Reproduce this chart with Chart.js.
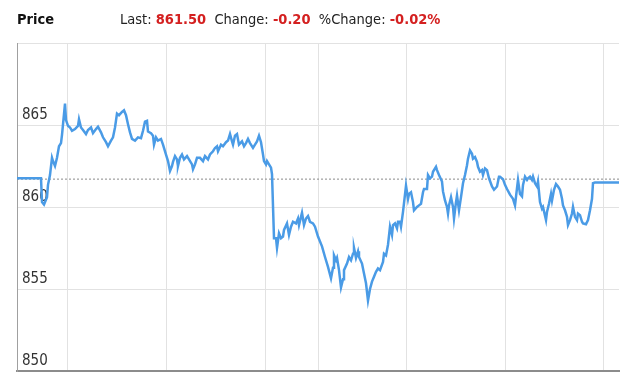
<!DOCTYPE html>
<html>
<head>
<meta charset="utf-8">
<script src="https://cdn.jsdelivr.net/npm/chart.js@4"></script>
<style>
  html, body { margin: 0; padding: 0; background: #fff; }
  #wrap { position: relative; width: 640px; height: 390px; }
  #head {
    position: absolute; left: 17px; top: 11px;
    font-family: "DejaVu Sans Condensed", "Liberation Sans Narrow", sans-serif;
    font-size: 14.5px; color: #222; white-space: pre;
  }
  #head b.title { font-weight: bold; color: #111; margin-right: 66px; }
  #head .val { color: #d42020; font-weight: bold; }
</style>
</head>
<body>
<div id="wrap">
  <canvas id="priceChart" width="640" height="390"></canvas>
  <div id="head"><b class="title">Price</b>Last: <span class="val">861.50</span>  Change: <span class="val">-0.20</span>  %Change: <span class="val">-0.02%</span></div>
</div>
<script>
// intraday price trace (time in chart units, price)
const times = [
  0, 24, 25, 27, 30, 31, 33, 35, 36, 38, 40, 42, 44, 45, 48, 49, 51, 53, 55, 58,
  61, 62, 64, 66, 69, 71, 74, 76, 79, 81, 84, 86, 89, 91, 94, 96, 98, 100, 102, 105,
  107, 109, 111, 113, 115, 118, 121, 124, 126, 128, 130, 131, 134, 136, 137, 139, 141, 144, 146, 149,
  151, 153, 155, 156, 158, 160, 161, 163, 165, 167, 170, 172, 175, 176, 178, 180, 183, 186, 188, 191,
  193, 196, 198, 200, 201, 204, 206, 209, 211, 213, 215, 216, 218, 220, 222, 225, 227, 229, 231, 233,
  236, 238, 240, 242, 244, 246, 247, 249, 250, 252, 254, 255, 257, 259, 260, 262, 264, 266, 267, 270,
  272, 274, 276, 279, 281, 282, 284, 285, 287, 289, 291, 293, 296, 298, 301, 305, 308, 311, 314, 316,
  317, 319, 320, 322, 324, 326, 327, 330, 332, 334, 336, 337, 339, 341, 342, 345, 347, 349, 351, 353,
  355, 357, 359, 361, 363, 366, 367, 369, 371, 373, 375, 376, 378, 380, 381, 383, 384, 386, 389, 391,
  392, 394, 396, 397, 400, 402, 404, 406, 407, 410, 411, 413, 415, 416, 419, 420, 422, 425, 426, 428,
  430, 431, 432, 434, 436, 437, 439, 440, 442, 444, 446, 448, 450, 451, 453, 455, 456, 458, 460, 461,
  463, 465, 466, 468, 470, 472, 475, 477, 480, 482, 483, 486, 488, 490, 493, 496, 498, 500, 501, 503,
  505, 506, 508, 510, 511, 513, 515, 516, 518, 520, 521, 523, 525, 526, 529, 530, 532, 534, 535, 537,
  539, 541, 543, 545, 546, 548, 550, 551, 553, 555, 556, 558, 560, 561, 563, 565, 566, 569, 571, 573,
  575, 576, 578, 602
];
const prices = [
  861.75, 861.75, 860.3, 860.15, 860.6, 861.35, 861.95, 863.0, 862.8, 862.5, 863.0, 863.7, 863.9, 864.4, 866.3, 865.3, 864.95, 864.85, 864.65, 864.75,
  864.95, 865.35, 864.85, 864.7, 864.45, 864.7, 864.85, 864.5, 864.75, 864.9, 864.55, 864.25, 863.95, 863.7, 864.05, 864.25, 864.85, 865.7, 865.6, 865.8,
  865.9, 865.6, 865.05, 864.55, 864.15, 864.05, 864.25, 864.2, 864.65, 865.2, 865.25, 864.6, 864.5, 864.35, 863.8, 864.25, 864.05, 864.15, 863.8, 863.2,
  862.8, 862.2, 862.5, 862.75, 863.1, 862.9, 862.5, 863.0, 863.2, 862.9, 863.1, 862.9, 862.6, 862.3, 862.6, 863.0, 863.0, 862.8, 863.1, 862.9,
  863.2, 863.4, 863.6, 863.7, 863.4, 863.8, 863.7, 863.95, 864.05, 864.45, 864.0, 863.8, 864.35, 864.45, 863.8, 864.0, 863.7, 863.9, 864.15, 863.9,
  863.6, 863.8, 864.0, 864.35, 863.95, 863.2, 862.8, 862.6, 862.8, 862.6, 862.4, 862.0, 858.1, 858.1, 857.5, 858.4, 858.1, 858.2, 858.6, 859.0,
  858.3, 858.8, 859.1, 859.0, 859.3, 858.9, 859.4, 859.65, 858.9, 859.3, 859.45, 859.1, 859.0, 858.8, 858.2, 857.6, 856.95, 856.35, 855.65, 856.3,
  857.05, 856.75, 856.9, 856.15, 855.1, 855.6, 856.15, 856.55, 856.95, 856.75, 857.15, 857.5, 856.9, 857.3, 856.95, 856.55, 855.95, 855.35, 854.3, 855.0,
  855.45, 855.75, 856.05, 856.25, 856.15, 856.65, 857.15, 857.05, 857.7, 858.8, 858.3, 858.9, 859.0, 858.7, 859.1, 859.1, 858.8, 859.7, 861.3, 860.5,
  860.8, 860.9, 860.3, 859.8, 860.0, 860.1, 860.2, 860.9, 861.1, 861.1, 861.95, 861.75, 861.85, 862.15, 862.45, 862.25, 861.95, 861.55, 860.95, 860.4,
  860.0, 859.6, 860.1, 860.6, 860.0, 859.3, 860.3, 860.7, 859.8, 860.6, 861.45, 861.95, 862.55, 862.95, 863.45, 863.25, 862.95, 863.05, 862.75, 862.45,
  862.15, 862.25, 861.95, 862.35, 862.25, 861.75, 861.25, 861.05, 861.25, 861.85, 861.85, 861.7, 861.35, 861.1, 860.75, 860.5, 860.1, 861.15, 861.65, 860.8,
  860.65, 861.35, 861.85, 861.65, 861.75, 861.85, 861.65, 861.85, 861.45, 861.25, 861.55, 860.3, 859.9, 860.0, 859.2, 859.7, 860.2, 860.8, 860.4, 861.05,
  861.4, 861.25, 861.05, 860.5, 860.1, 859.8, 859.4, 858.9, 859.2, 859.6, 860.0, 859.4, 859.2, 859.6, 859.5, 859.1, 859.0, 858.95, 859.2, 859.8,
  860.5, 861.45, 861.5, 861.5
];
const prevClose = 861.70;
const gridTimes = [50, 149, 248, 301, 389, 488, 586];
const timeRange = [0, 602];
const priceRange = [850, 870];

const ctx = document.getElementById('priceChart').getContext('2d');
const priceChart = new Chart(ctx, {
    type: 'line',
    data: {
        datasets: [
            {
                label: 'Price',
                data: times.map((t, i) => ({ x: t, y: prices[i] })),
                borderColor: '#4a9be6',
                borderWidth: 2.5,
                pointRadius: 0,
                tension: 0,
                fill: false
            },
            {
                label: 'Prev close',
                data: [{ x: timeRange[0], y: prevClose }, { x: timeRange[1], y: prevClose }],
                borderColor: '#8a8a8a',
                borderWidth: 1,
                borderDash: [2, 2],
                pointRadius: 0,
                fill: false
            }
        ]
    },
    options: {
        responsive: false,
        animation: false,
        layout: { padding: { left: 7, right: 21, top: 43, bottom: 19 } },
        plugins: { legend: { display: false }, tooltip: { enabled: false } },
        scales: {
            x: {
                type: 'linear',
                min: timeRange[0],
                max: timeRange[1],
                afterBuildTicks: (s) => { s.ticks = gridTimes.map(v => ({ value: v })); },
                ticks: { display: false },
                grid: { color: '#e2e2e2', drawTicks: false },
                border: { display: true, color: '#8c8c8c', width: 2 }
            },
            y: {
                min: priceRange[0],
                max: priceRange[1],
                ticks: {
                    stepSize: 5,
                    mirror: true,
                    padding: 5,
                    labelOffset: -10,
                    color: '#333',
                    font: { family: '"DejaVu Sans Condensed", sans-serif', size: 15 },
                    callback: (v) => v === priceRange[1] ? '' : v
                },
                grid: { color: '#e2e2e2', drawTicks: false },
                border: { display: true, color: '#a0a0a0', width: 1 }
            }
        }
    }
});
</script>
</body>
</html>
